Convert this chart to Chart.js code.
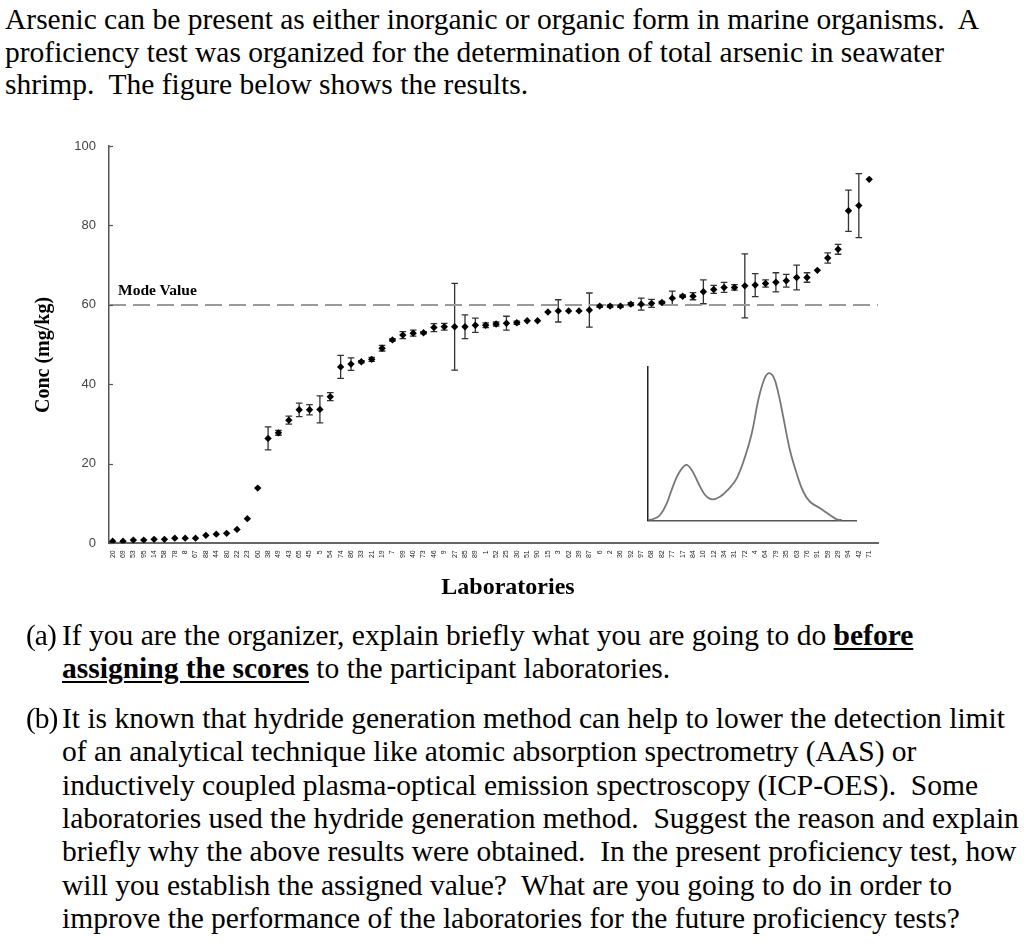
<!DOCTYPE html>
<html>
<head>
<meta charset="utf-8">
<script src="https://cdn.jsdelivr.net/npm/chart.js@4"></script>
<style>
  html, body { margin:0; padding:0; background:#fff; }
  body { width:1024px; height:950px; position:relative; overflow:hidden;
         font-family:"Liberation Serif","Times New Roman",serif; color:#000; }
  .ln { position:absolute; white-space:pre; font-size:29.5px; line-height:32px; }
  .lab { letter-spacing:-1px; }
  .bu { font-weight:bold; text-decoration:underline; text-decoration-thickness:2px; text-underline-offset:3px; }
  #main { position:absolute; left:0; top:120px; }
  #inset { position:absolute; left:640px; top:360px; }
  .ax { position:absolute; font-weight:bold; white-space:nowrap; }
</style>
</head>
<body>
<div class="ln" style="left:5px;top:3px;">Arsenic can be present as either inorganic or organic form in marine organisms.  A</div>
<div class="ln" style="left:5px;top:36px;">proficiency test was organized for the determination of total arsenic in seawater</div>
<div class="ln" style="left:5px;top:68px;">shrimp.  The figure below shows the results.</div>

<canvas id="main" width="1024" height="490"></canvas>
<canvas id="inset" width="225" height="168"></canvas>

<div class="ax" style="left:42px;top:355px;font-size:20px;transform:translate(-50%,-50%) rotate(-90deg);">Conc (mg/kg)</div>
<div class="ax" style="left:508px;top:586px;font-size:24px;transform:translate(-50%,-50%);">Laboratories</div>
<div class="ax" style="left:118px;top:281px;font-size:15.5px;">Mode Value</div>

<div class="ln lab" style="left:26px;top:619px;">(a)</div>
<div class="ln" style="left:62px;top:619px;">If you are the organizer, explain briefly what you are going to do <span class="bu">before</span></div>
<div class="ln" style="left:62px;top:652px;"><span class="bu">assigning the scores</span> to the participant laboratories.</div>

<div class="ln lab" style="left:26px;top:702px;">(b)</div>
<div class="ln" style="left:62px;top:702px;">It is known that hydride generation method can help to lower the detection limit</div>
<div class="ln" style="left:62px;top:735px;">of an analytical technique like atomic absorption spectrometry (AAS) or</div>
<div class="ln" style="left:62px;top:769px;">inductively coupled plasma-optical emission spectroscopy (ICP-OES).  Some</div>
<div class="ln" style="left:62px;top:802px;">laboratories used the hydride generation method.  Suggest the reason and explain</div>
<div class="ln" style="left:62px;top:835px;">briefly why the above results were obtained.  In the present proficiency test, how</div>
<div class="ln" style="left:62px;top:869px;">will you establish the assigned value?  What are you going to do in order to</div>
<div class="ln" style="left:62px;top:902px;">improve the performance of the laboratories for the future proficiency tests?</div>

<script>
// ---- data ----
const labs = ["20","69","53","95","14","58","78","8","67","88","44","80","22","23","60","38","49","43","65","45",
              "5","54","74","86","33","21","19","7","99","40","73","46","9","27","85","89","1","52","25","30",
              "51","90","15","3","62","39","87","6","2","36","92","97","68","82","77","17","84","10","12","34",
              "31","72","4","64","79","35","63","76","91","59","29","94","42","71"];
const conc = [0.5,0.5,0.8,0.8,1.0,1.0,1.3,1.3,1.3,2.0,2.3,2.5,3.5,6.2,13.9,26.4,27.8,31.0,33.6,33.6,
              33.7,36.9,44.4,45.1,45.7,46.3,49.1,51.2,52.4,52.9,53.0,54.3,54.5,54.5,54.5,54.9,54.9,55.2,55.4,55.5,
              56.0,56.0,58.2,58.5,58.5,58.5,58.7,59.7,59.7,59.7,60.2,60.2,60.4,60.6,61.7,62.2,62.2,63.3,63.9,64.4,
              64.4,64.8,65.0,65.4,65.7,66.1,66.9,66.9,68.7,71.8,74.0,83.7,85.0,91.6];
const uncert = [0,0,0,0,0,0,0,0,0,0,0,0,0,0,0,2.9,0.6,1.0,1.7,1.3,
                3.4,1.0,2.9,1.55,0.3,0.5,0.7,0.3,0.9,0.75,0.3,1.0,0.85,10.9,3.0,1.8,0.6,0.5,1.75,0.4,
                0,0,0,2.8,0,0,4.3,0.3,0.3,0.3,0.4,1.5,1.0,0.3,1.75,0.3,0.9,3.0,1.0,1.25,
                0.7,8.05,2.9,0.9,2.4,1.6,3.1,1.2,0,1.3,1.25,5.2,8.05,0];
const modeValue = 60;
const yTicks = [0,20,40,60,80,100];
// inset distribution curve (relative units)
const insetX = [0.5,2.9,6.1,9.3,11.6,14.8,18.5,21.2,24.4,27.6,30.8,34.7,38.7,42.7,46.7,49.9,53.0,55.7,57.8,60.2,62.6,64.9,68.1,71.3,74.5,77.7,82.5,87.2,90.4,92.8];
const insetY = [0.5,1.1,3.7,11.3,19.9,30.3,36.2,32.9,24.3,16.7,13.9,15.6,20.4,27.5,41.6,56.8,78.4,91.4,95.7,93.5,82.7,67.5,45.9,30.8,18.8,12.3,8.1,3.7,0.9,0.5];

const X_MIN = -0.35, X_MAX = 73.85;

const errorBars = {
  id: 'errorBars',
  beforeDatasetsDraw(chart) {
    const {ctx, scales: {x, y}} = chart;
    ctx.save();
    ctx.strokeStyle = '#333';
    ctx.lineWidth = 1.3;
    conc.forEach((v, i) => {
      const e = uncert[i];
      if (!e) return;
      const px = x.getPixelForValue(i);
      const t = y.getPixelForValue(v + e), b = y.getPixelForValue(v - e);
      ctx.beginPath();
      ctx.moveTo(px, t); ctx.lineTo(px, b);
      ctx.moveTo(px - 3.3, t); ctx.lineTo(px + 3.3, t);
      ctx.moveTo(px - 3.3, b); ctx.lineTo(px + 3.3, b);
      ctx.stroke();
    });
    ctx.restore();
  }
};
const innerTicks = {
  id: 'innerTicks',
  afterDraw(chart) {
    const {ctx, scales: {y}, chartArea} = chart;
    ctx.save();
    ctx.strokeStyle = '#555';
    ctx.lineWidth = 1.2;
    yTicks.forEach(t => {
      const py = Math.round(y.getPixelForValue(t)) + 0.5;
      ctx.beginPath();
      ctx.moveTo(chartArea.left, py); ctx.lineTo(chartArea.left + 4, py);
      ctx.stroke();
    });
    ctx.restore();
  }
};

new Chart(document.getElementById('main'), {
  type: 'scatter',
  data: {
    datasets: [
      {
        label: 'Mode Value',
        type: 'line',
        data: [{x: X_MIN, y: modeValue}, {x: X_MAX, y: modeValue}],
        borderColor: '#9a9a9a',
        borderWidth: 2,
        borderDash: [17, 7],
        pointRadius: 0,
        order: 2
      },
      {
        label: 'Conc',
        data: conc.map((v, i) => ({x: i, y: v})),
        pointStyle: 'rectRot',
        pointRadius: 3.7,
        backgroundColor: '#000',
        borderColor: '#000',
        borderWidth: 0,
        order: 1
      }
    ]
  },
  options: {
    responsive: false,
    animation: false,
    layout: { padding: { left: 0, top: 26, right: 146, bottom: 0 } },
    plugins: { legend: { display: false }, tooltip: { enabled: false } },
    scales: {
      x: {
        type: 'linear', min: X_MIN, max: X_MAX,
        afterBuildTicks: s => { s.ticks = labs.map((_, i) => ({value: i})); },
        afterFit: s => { s.height = 66.7; },
        grid: { display: false, drawTicks: false },
        border: { display: true, color: '#666', width: 2 },
        ticks: {
          autoSkip: false, minRotation: 90, maxRotation: 90, padding: 7,
          color: '#222', font: { family: 'Liberation Sans', size: 7 },
          callback: (v, i) => labs[i]
        }
      },
      y: {
        min: 0, max: 100,
        afterBuildTicks: s => { s.ticks = yTicks.map(v => ({value: v})); },
        afterFit: s => { s.width = 109; },
        grid: { display: false, drawTicks: false },
        border: { display: true, color: '#555', width: 1.5 },
        ticks: { padding: 13, color: '#444', font: { family: 'Liberation Sans', size: 13 } }
      }
    }
  },
  plugins: [errorBars, innerTicks]
});

new Chart(document.getElementById('inset'), {
  type: 'line',
  data: {
    datasets: [{
      data: insetX.map((v, i) => ({x: v, y: insetY[i]})),
      borderColor: '#777',
      borderWidth: 1.8,
      pointRadius: 0,
      tension: 0.4,
      fill: false
    }]
  },
  options: {
    responsive: false,
    animation: false,
    layout: { padding: { left: 7.3, top: 6.7, right: 8.3, bottom: 7.3 } },
    plugins: { legend: { display: false }, tooltip: { enabled: false } },
    scales: {
      x: {
        type: 'linear', min: 0, max: 100,
        afterFit: s => { s.height = 0; },
        grid: { display: false, drawTicks: false },
        ticks: { display: false },
        border: { display: true, color: '#555', width: 1.5 }
      },
      y: {
        min: 0, max: 100,
        afterFit: s => { s.width = 0; },
        grid: { display: false, drawTicks: false },
        ticks: { display: false },
        border: { display: true, color: '#222', width: 1.5 }
      }
    }
  }
});
</script>
</body>
</html>
